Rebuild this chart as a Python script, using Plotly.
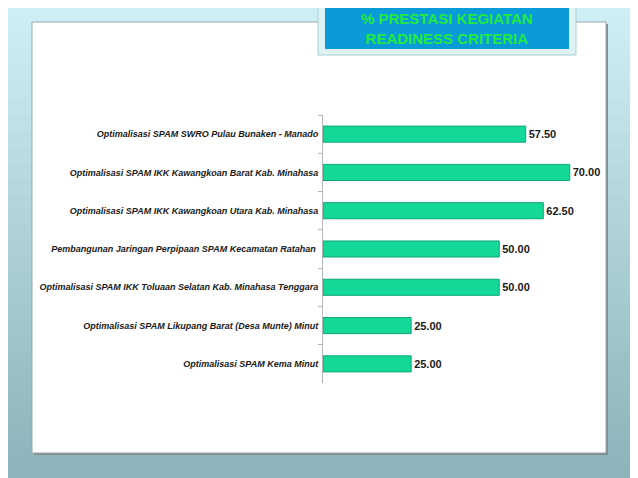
import plotly.graph_objects as go

categories = [
    "Optimalisasi SPAM SWRO Pulau Bunaken - Manado",
    "Optimalisasi SPAM IKK Kawangkoan Barat Kab. Minahasa",
    "Optimalisasi SPAM IKK Kawangkoan Utara Kab. Minahasa",
    "Pembangunan Jaringan Perpipaan SPAM Kecamatan Ratahan ",
    "Optimalisasi SPAM IKK Toluaan Selatan Kab. Minahasa Tenggara",
    "Optimalisasi SPAM Likupang Barat (Desa Munte) Minut",
    "Optimalisasi SPAM Kema Minut",
]
values = [57.50, 70.00, 62.50, 50.00, 50.00, 25.00, 25.00]
title_lines = ["% PRESTASI KEGIATAN", "READINESS CRITERIA"]

# page body has an 8px margin, so the figure is drawn offset by (8, 8)
OFF = 8
W, H = 638 - OFF, 478 - OFF
FONT = "Arial, Liberation Sans, sans-serif"

def px_x(x):
    return (x - OFF) / W

def px_y(y):
    return 1 - (y - OFF) / H

fig = go.Figure()

fig.add_trace(go.Bar(
    x=values,
    y=categories,
    orientation="h",
    width=0.42,
    marker=dict(color="#14d897", line=dict(color="#0fa67a", width=1)),
    texttemplate="%{x:.2f}",
    textposition="outside",
    textfont=dict(family=FONT, size=11, color="#1a1a1a", weight="bold"),
    cliponaxis=False,
    hoverinfo="skip",
))

shapes = []
# background vertical gradient
top = (205, 238, 244)
bot = (141, 180, 186)
n = 30
for i in range(n):
    t = i / (n - 1)
    c = tuple(int(round(top[k] + (bot[k] - top[k]) * t)) for k in range(3))
    shapes.append(dict(type="rect", xref="paper", yref="paper", layer="below",
                       x0=0, x1=1, y0=1 - (i + 1) / n, y1=1 - i / n + 0.002,
                       fillcolor="rgb(%d,%d,%d)" % c, line=dict(width=0)))
# panel shadow
shapes.append(dict(type="rect", xref="paper", yref="paper", layer="below",
                   x0=px_x(34), x1=px_x(608), y0=px_y(455), y1=px_y(24),
                   fillcolor="#7f8d90", line=dict(width=0)))
# white panel
shapes.append(dict(type="rect", xref="paper", yref="paper", layer="below",
                   x0=px_x(32), x1=px_x(606), y0=px_y(453), y1=px_y(22),
                   fillcolor="white", line=dict(color="#9aa6a8", width=1)))
# title box border + blue
shapes.append(dict(type="rect", xref="paper", yref="paper", layer="above",
                   x0=px_x(318), x1=px_x(576), y0=px_y(55), y1=px_y(-2),
                   fillcolor="#dff3f7", line=dict(color="#a9cfd6", width=1)))
shapes.append(dict(type="rect", xref="paper", yref="paper", layer="above",
                   x0=px_x(325), x1=px_x(569), y0=px_y(49), y1=px_y(-2),
                   fillcolor="#0b9bd9", line=dict(width=0)))

annotations = [dict(xref="paper", yref="paper", x=px_x(447), y=px_y(28.5),
                    text="<br>".join(title_lines), showarrow=False,
                    xanchor="center", yanchor="middle", align="center",
                    font=dict(family=FONT, size=15, color="#22ea3e", weight="bold"))]

fig.update_layout(
    width=W, height=H,
    margin=dict(l=0, r=0, t=0, b=0),
    paper_bgcolor="#b0d4da",
    plot_bgcolor="rgba(0,0,0,0)",
    showlegend=False,
    shapes=shapes,
    annotations=annotations,
    xaxis=dict(domain=[px_x(323), px_x(605)], range=[0, 80], visible=False, fixedrange=True),
    yaxis=dict(domain=[px_y(383), px_y(115)], autorange="reversed", type="category",
               showline=True, linecolor="#b5b5b5", linewidth=1,
               ticks="outside", ticklen=4, tickcolor="#b5b5b5", tickson="boundaries",
               showgrid=False, zeroline=False,
               tickfont=dict(family=FONT, size=9, color="#1a1a1a", weight="bold", style="italic"),
               ticklabelstandoff=2),
)

fig.write_html("out.html")
